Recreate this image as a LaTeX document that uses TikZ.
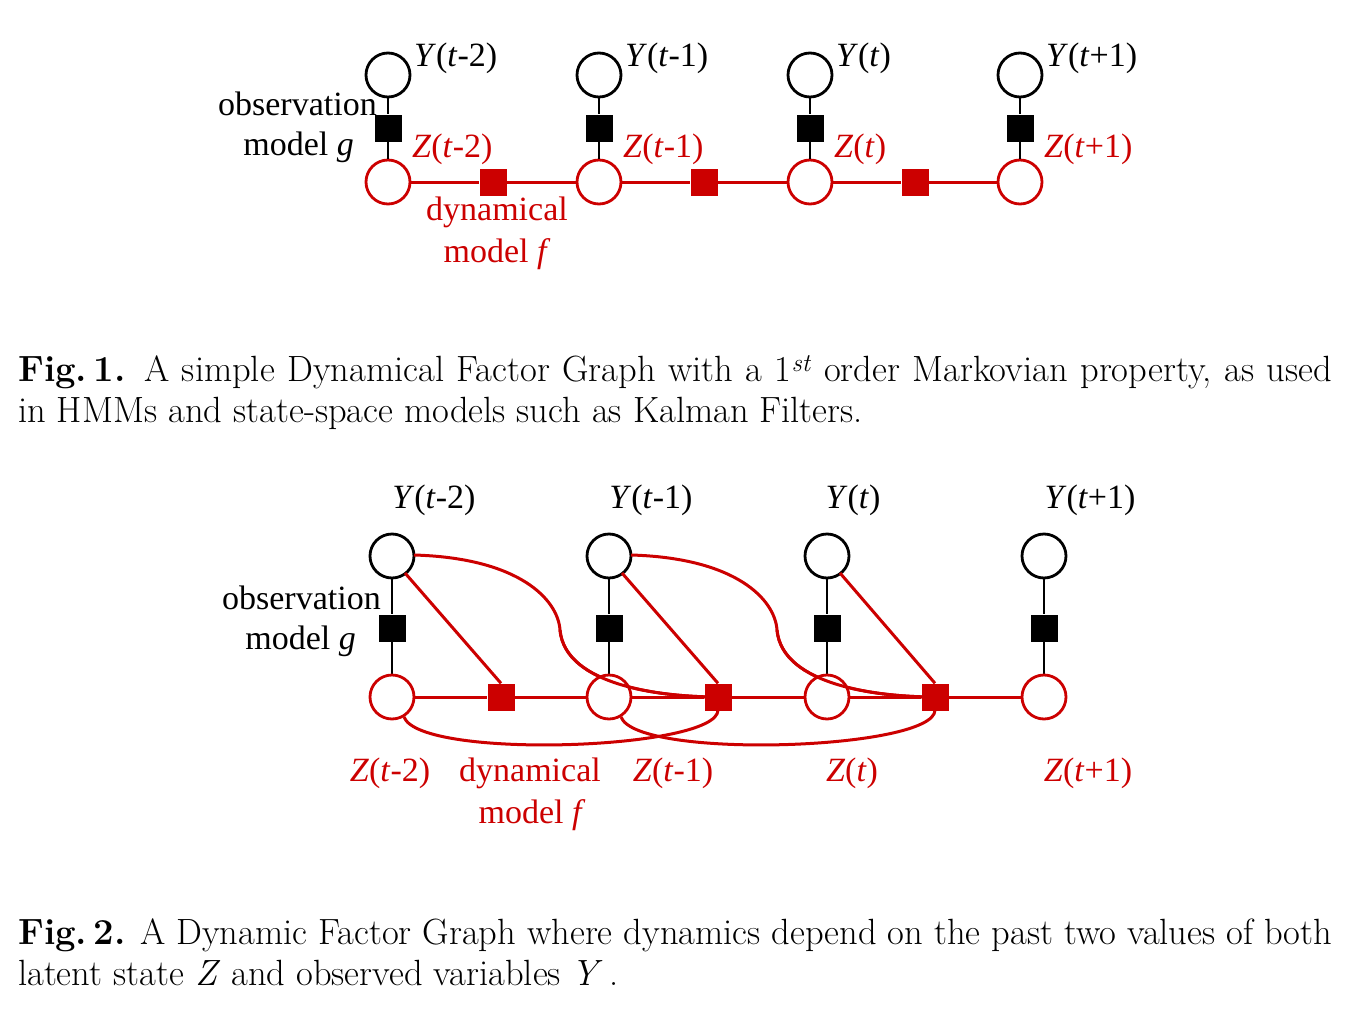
\documentclass[tikz,border=0pt]{standalone}
\usepackage{fontspec}
\newfontfamily\tms{Liberation Serif}
\begin{document}
\begin{tikzpicture}[x=1pt,y=-1pt,
 yv/.style={circle,draw=black,line width=2.8pt,minimum size=44pt,inner sep=0},
 zv/.style={circle,draw=red!80!black,line width=2.8pt,minimum size=44pt,inner sep=0,fill=white},
 bf/.style={rectangle,fill=black,minimum size=27pt,inner sep=0},
 rf/.style={rectangle,fill=red!80!black,minimum size=27pt,inner sep=0},
 bl/.style={line width=2.8pt,black},
 rl/.style={line width=3pt,red!80!black},
 lab/.style={font=\tms\fontsize{34}{36}\selectfont,inner sep=0},
 rlab/.style={lab,text=red!80!black}]
\useasboundingbox (0,0) rectangle (1358,1017);
% Fig 1
\foreach \i/\x in {1/388,2/599,3/810,4/1020}{
 \node[yv] (a\i) at (\x,75) {};
 \node[bf] (g\i) at (\x,128) {};
 \node[zv] (z\i) at (\x,182) {};
 \draw[bl] (a\i) -- (g\i) -- (z\i);
 \node[lab,anchor=west] at (\x+26,58) {\textit{Y}(\textit{t}\ifnum\i=1 -2\fi\ifnum\i=2 -1\fi\ifnum\i=4 +1\fi)};
 \node[rlab,anchor=west] at (\x+24,149) {\textit{Z}(\textit{t}\ifnum\i=1 -2\fi\ifnum\i=2 -1\fi\ifnum\i=4 +1\fi)};
}
\foreach \i/\x in {1/493,2/704,3/915}{\node[rf] (f\i) at (\x,182) {};}
\draw[rl] (z1) -- (f1) -- (z2) -- (f2) -- (z3) -- (f3) -- (z4);
\node[lab,anchor=east] at (377,104) {observation};
\node[lab,anchor=east] at (354,147) {model \textit{g}};
\node[rlab] at (497,212) {dynamical};
\node[rlab] at (497,254) {model \textit{f}};
% Caption 1
\node[anchor=north west,inner sep=0,text width=1314pt,align=justify,font=\fontsize{36.5}{41.5}\selectfont] at (18,355) {\textbf{Fig.\,1.} A simple Dynamical Factor Graph with a 1\textsuperscript{\textit{st}} order Markovian property, as used in HMMs and state-space models such as Kalman Filters.};
% Fig 2
\foreach \i/\x in {1/392,2/609,3/827,4/1044}{
 \node[yv] (b\i) at (\x,556) {};
 \node[bf] (h\i) at (\x,628) {};
}
\foreach \i/\x in {1/501,2/718,3/935}{\node[rf] (e\i) at (\x,697) {};}
\foreach \i/\x in {1/392,2/609,3/827,4/1044}{
 \draw[bl] (b\i) -- (h\i) -- (\x,676);
}
\foreach \d/\s in {0/1,217/2}{
 \draw[rl] (405+\d,573) -- (e\s.north);
 \draw[rl] (414+\d,555) .. controls (520+\d,558) and (558+\d,600) .. (560+\d,630) .. controls (565+\d,685) and (660+\d,697) .. (718+\d,697);
}
\draw[rl] (840,573) -- (e3.north);
\foreach \i/\x in {1/392,2/609,3/827,4/1044}{\node[zv] (y\i) at (\x,697) {};}
\draw[rl] (y1) -- (e1) -- (y2) -- (e2) -- (y3) -- (e3) -- (y4);
\foreach \d in {0,217}{
 \draw[rl] (560+\d,630) .. controls (565+\d,685) and (660+\d,697) .. (718+\d,697);
 \draw[rl] (404+\d,717) .. controls (420+\d,760) and (718+\d,750) .. (718+\d,710);
}
\node[lab] at (434,500) {\textit{Y}(\textit{t}-2)};
\node[lab] at (651,500) {\textit{Y}(\textit{t}-1)};
\node[lab] at (853,500) {\textit{Y}(\textit{t})};
\node[lab] at (1090,500) {\textit{Y}(\textit{t}+1)};
\node[rlab] at (390,773) {\textit{Z}(\textit{t}-2)};
\node[rlab] at (673,773) {\textit{Z}(\textit{t}-1)};
\node[rlab] at (852,773) {\textit{Z}(\textit{t})};
\node[rlab] at (1088,773) {\textit{Z}(\textit{t}+1)};
\node[rlab] at (530,773) {dynamical};
\node[rlab] at (532,815) {model \textit{f}};
\node[lab,anchor=east] at (381,598) {observation};
\node[lab,anchor=east] at (356,641) {model \textit{g}};
\node[anchor=north west,inner sep=0,text width=1314pt,align=justify,font=\fontsize{36.5}{41.5}\selectfont] at (18,918) {\textbf{Fig.\,2.} A Dynamic Factor Graph where dynamics depend on the past two values of both latent state \textit{Z} and observed variables \textit{Y}\,.};
\end{tikzpicture}
\end{document}
